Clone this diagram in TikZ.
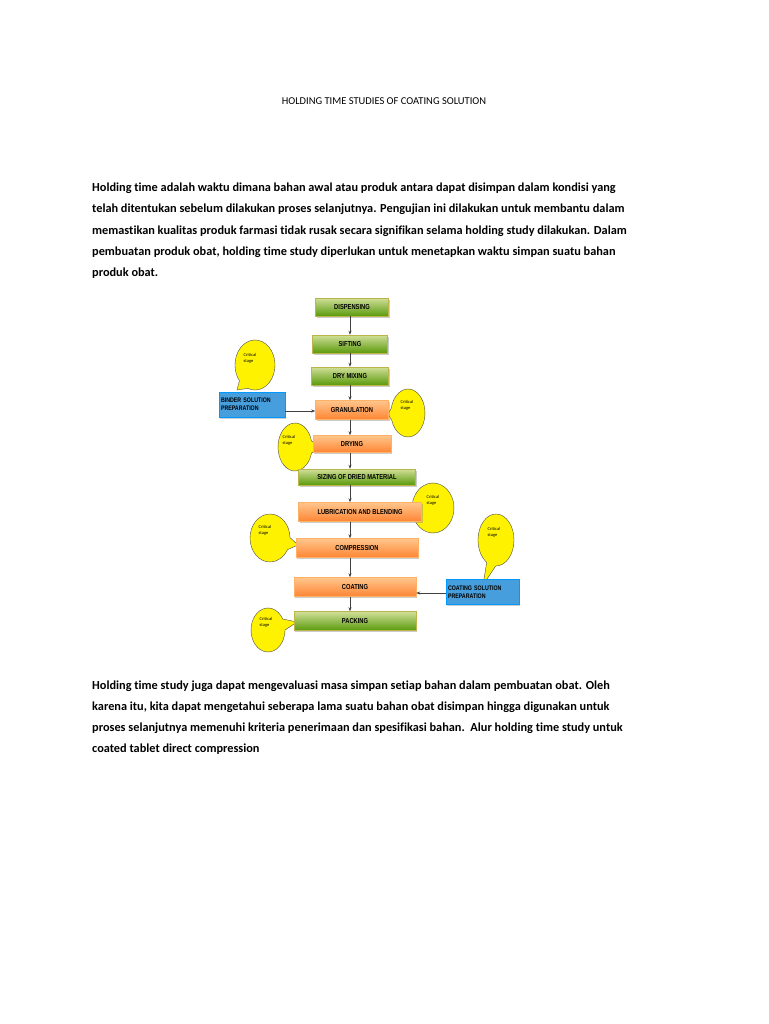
\documentclass[tikz,border=0pt]{standalone}
\usepackage{fontspec}
\setmainfont{Carlito}[Ligatures=NoCommon]
\newfontfamily\boxfont{Liberation Sans}[FakeStretch=0.8]
\usetikzlibrary{shadows,arrows.meta,calc}
\begin{document}
\begin{tikzpicture}[x=1pt,y=-1pt,
  para/.style={anchor=west,inner sep=0,font=\fontsize{12.3}{14}\selectfont\bfseries},
  stepbox/.style={minimum height=18pt,inner sep=0,font=\boxfont\fontsize{7.2}{8}\selectfont\bfseries,drop shadow={shadow xshift=1pt,shadow yshift=-1.5pt,opacity=0.4}},
  grn/.style={stepbox,top color=green!15!lime!20!white!75!olive,bottom color=olive!55!green!70!black!80,draw=olive!60!white},
  org/.style={stepbox,top color=orange!45!white,bottom color=orange!80!red!80,draw=orange!60!white},
  blu/.style={minimum height=25pt,inner sep=2pt,align=left,fill=cyan!70!blue!75,draw=blue!40!cyan,font=\boxfont\fontsize{6.6}{8}\selectfont\bfseries,text width=62pt,drop shadow={shadow xshift=1pt,shadow yshift=-1.5pt,opacity=0.4}},
  arr/.style={-{Stealth[length=4pt,width=3pt]},thick,black!75},
  crit/.style={font=\fontsize{4.5}{6}\selectfont,align=left,inner sep=0}]
\useasboundingbox[fill=white] (0,0) rectangle (768,1024);
\node[font=\fontsize{10.5}{12}\selectfont] (title) at (384,101) {HOLDING TIME STUDIES OF COATING SOLUTION};
\node[para] (p1) at (92,188) {Holding time adalah waktu dimana bahan awal atau produk antara dapat disimpan dalam kondisi yang};
\node[para] (p2) at (92,209) {telah ditentukan sebelum dilakukan proses selanjutnya. Pengujian ini dilakukan untuk membantu dalam};
\node[para] (p3) at (92,231) {memastikan kualitas produk farmasi tidak rusak secara signifikan selama holding study dilakukan. Dalam};
\node[para] (p4) at (92,252) {pembuatan produk obat, holding time study diperlukan untuk menetapkan waktu simpan suatu bahan};
\node[para] (p5) at (92,273) {produk obat.};
\node[para] (q1) at (92,686) {Holding time study juga dapat mengevaluasi masa simpan setiap bahan dalam pembuatan obat. Oleh};
\node[para] (q2) at (92,707) {karena itu, kita dapat mengetahui seberapa lama suatu bahan obat disimpan hingga digunakan untuk};
\node[para] (q3) at (92,728) {proses selanjutnya memenuhi kriteria penerimaan dan spesifikasi bahan.\ \ Alur holding time study untuk};
\node[para] (q4) at (92,749) {coated tablet direct compression};

\foreach \cx/\cy/\rx/\ry/\tx/\ty/\ang in {255/365/20/25/237/390/126, 408/413/17/24/388/414/177, 295/447/17/24/319/447/0, 433/508/21/25/410/513/168, 270/538/20/24/298/545/14, 496/540/18/26/483/585/106, 268/630/17/22/297/622/-15}{
  \path[draw=black!70,fill=yellow] ($(\cx,\cy)+(\ang+15:{\rx} and {\ry})$) -- (\tx,\ty) -- ($(\cx,\cy)+(\ang-15:{\rx} and {\ry})$) arc[start angle=\ang-15,end angle=\ang-345,x radius=\rx,y radius=\ry] -- cycle;
}
\node[crit] (c1) at (250,358) {Critical\\stage};
\node[crit] (c2) at (407,405) {Critical\\stage};
\node[crit] (c3) at (289,440) {Critical\\stage};
\node[crit] (c4) at (433,500) {Critical\\stage};
\node[crit] (c5) at (265,530) {Critical\\stage};
\node[crit] (c6) at (494,532) {Critical\\stage};
\node[crit] (c7) at (266,622) {Critical\\stage};

\node[grn,minimum width=73pt] (d) at (352,307) {DISPENSING};
\node[grn,minimum width=75pt] (s) at (350,344) {SIFTING};
\node[grn,minimum width=77pt] (m) at (350,376) {DRY MIXING};
\node[org,minimum width=73pt,minimum height=19pt] (g) at (352,410) {GRANULATION};
\node[org,minimum width=78pt,minimum height=17pt] (dr) at (352,444) {DRYING};
\node[grn,minimum width=117pt,minimum height=16pt] (sz) at (357,477) {SIZING OF DRIED MATERIAL};
\node[org,minimum width=123pt,minimum height=19pt] (l) at (360,512) {LUBRICATION AND BLENDING};
\node[org,minimum width=122pt,minimum height=19pt] (c) at (357,548) {COMPRESSION};
\node[org,minimum width=122pt,minimum height=19pt] (co) at (355,587) {COATING};
\node[grn,minimum width=122pt,minimum height=19pt] (pk) at (355,621) {PACKING};
\node[blu] (b) at (252,404.5) {BINDER SOLUTION\\PREPARATION};
\node[blu,text width=69pt] (cs) at (482.5,592) {COATING SOLUTION\\PREPARATION};

\draw[arr] (d.south -| 350,0) -- (s.north);
\draw[arr] (s) -- (m);
\draw[arr] (m) -- (g.north -| 350,0);
\draw[arr] (g.south -| 350,0) -- (dr.north -| 350,0);
\draw[arr] (dr.south -| 350,0) -- (sz.north -| 350,0);
\draw[arr] (sz.south -| 350,0) -- (l.north -| 350,0);
\draw[arr] (l.south -| 350,0) -- (c.north -| 350,0);
\draw[arr] (c.south -| 350,0) -- (co.north -| 350,0);
\draw[arr] (co.south -| 350,0) -- (pk.north -| 350,0);
\draw[arr] (b.east |- 0,411) -- (g.west |- 0,411);
\draw[arr] (cs.west |- 0,593) -- (co.east |- 0,593);
\end{tikzpicture}
\end{document}
